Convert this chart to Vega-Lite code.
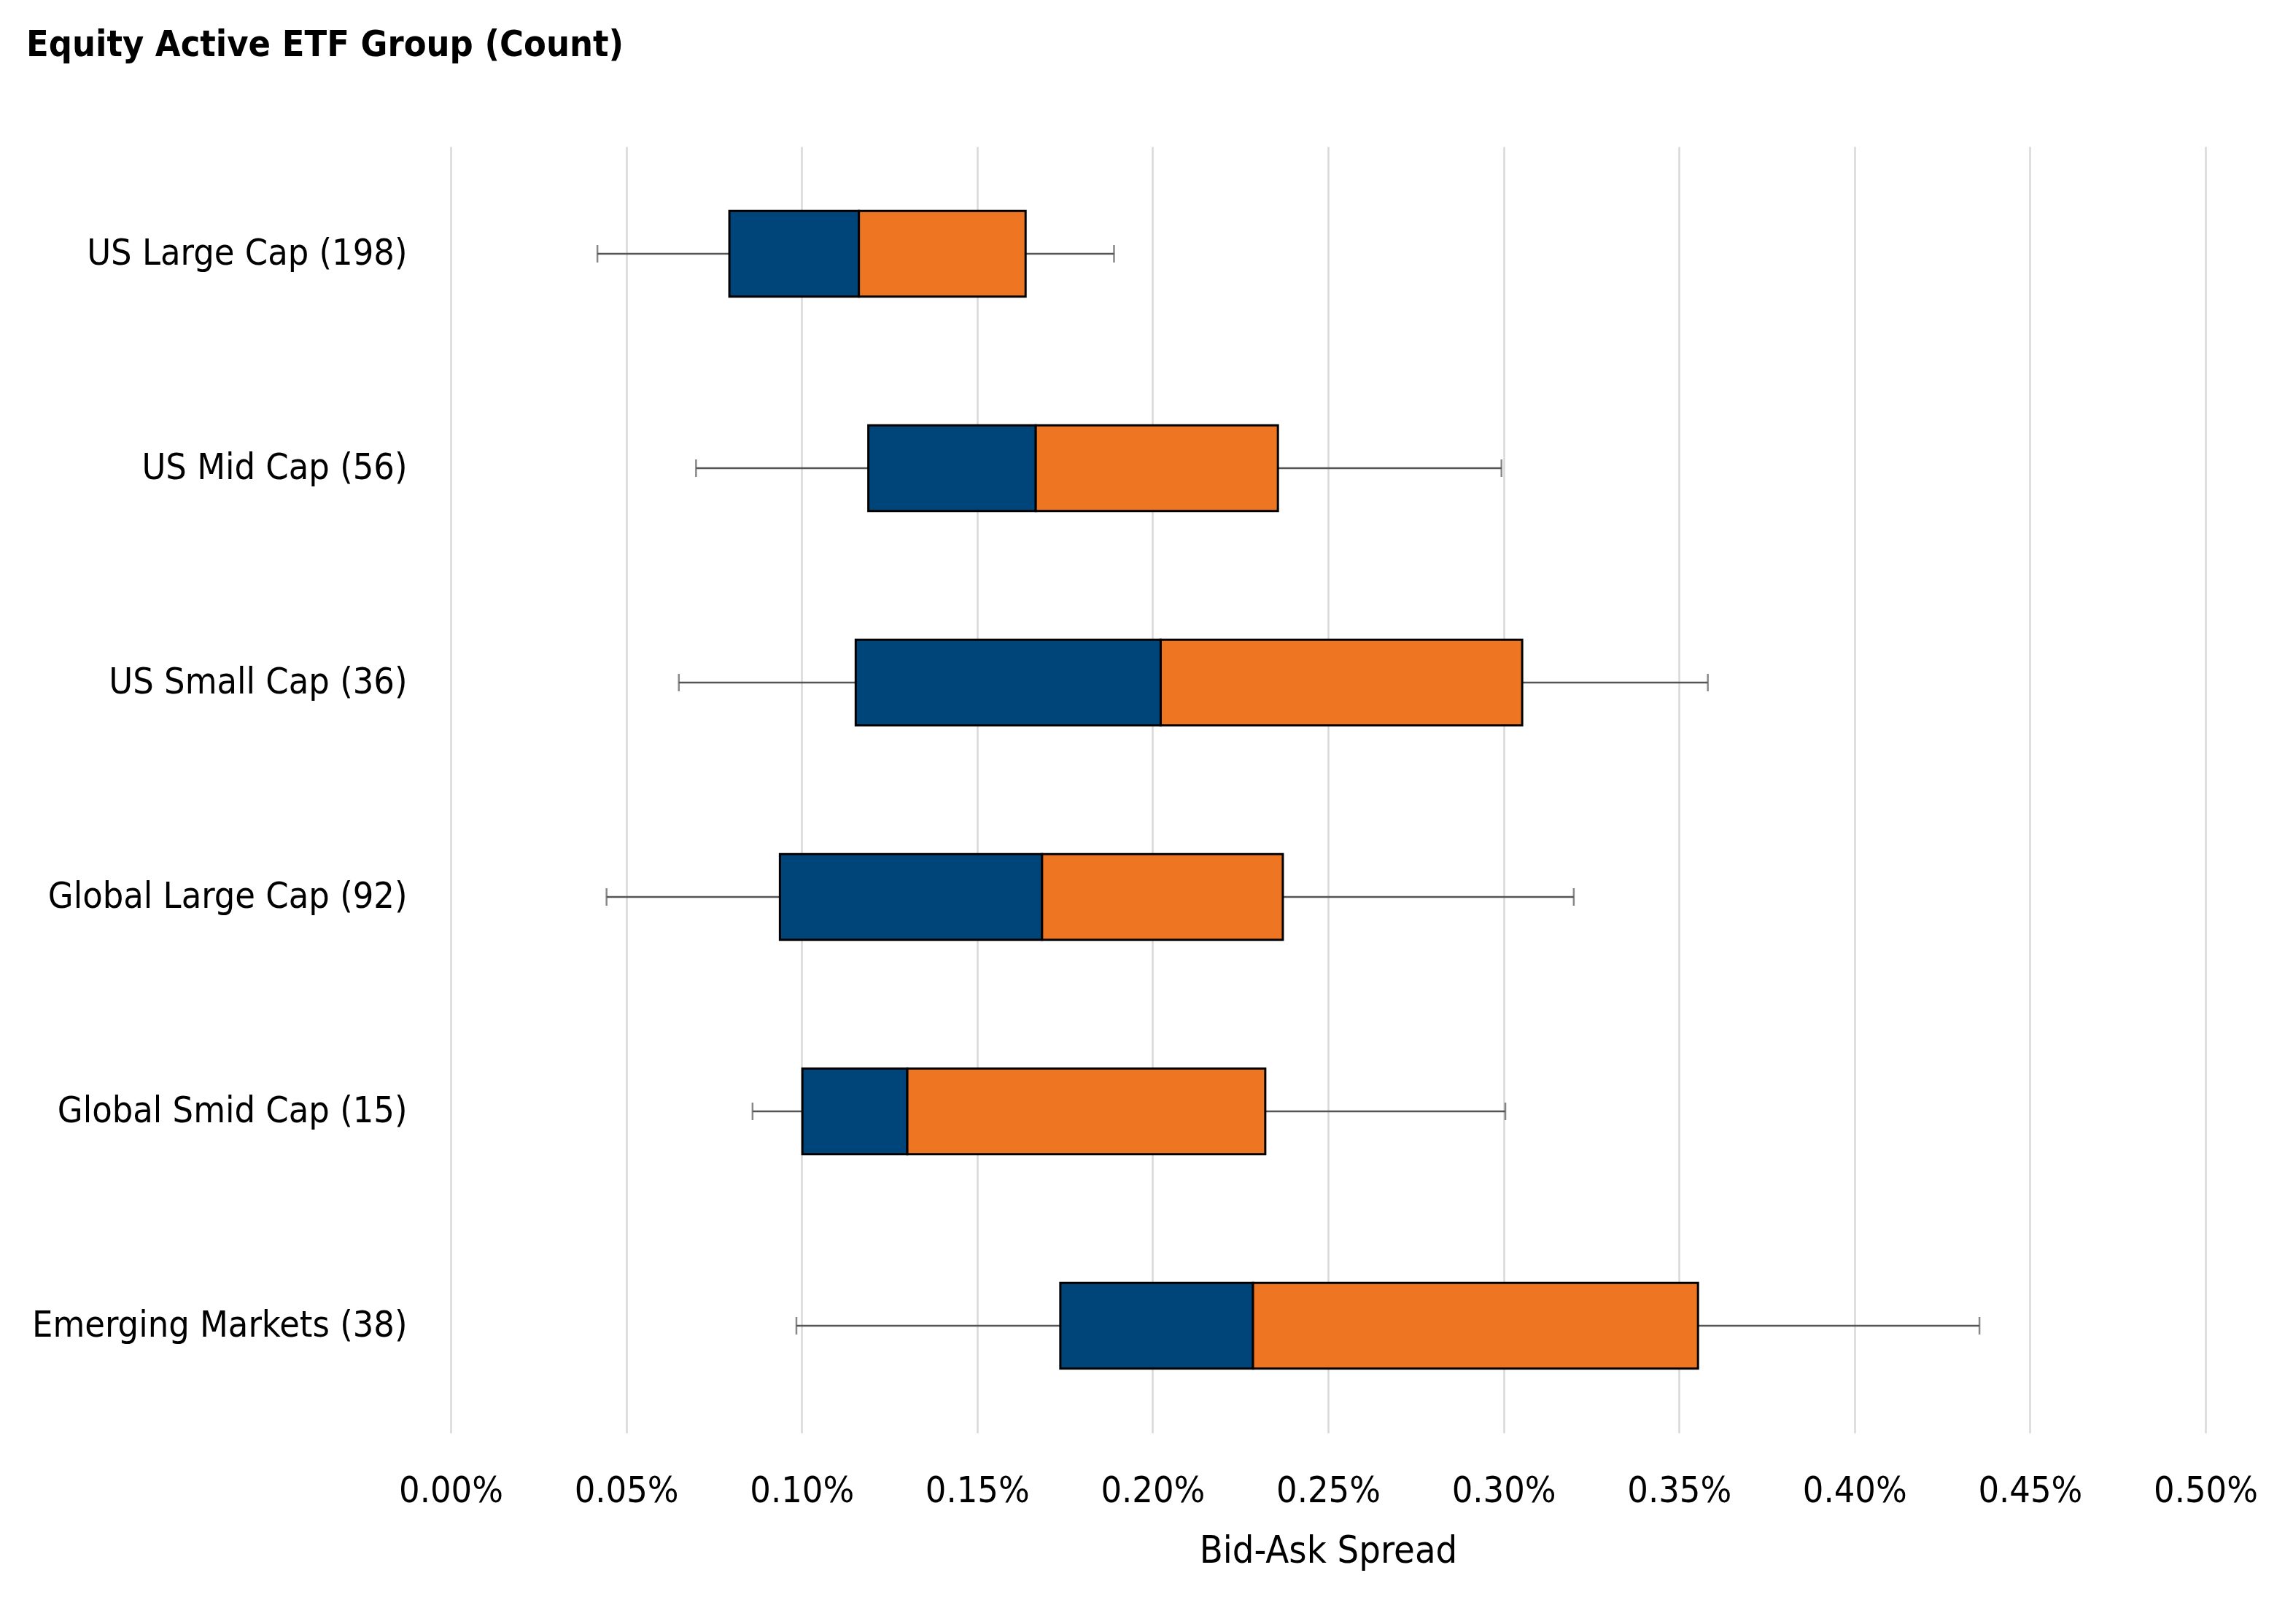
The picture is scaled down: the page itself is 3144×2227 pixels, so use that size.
{
  "$schema": "https://vega.github.io/schema/vega-lite/v6.json",
  "autosize": "none",
  "width": 2406,
  "height": 1764,
  "padding": {"left": 618, "top": 201, "right": 120, "bottom": 262},
  "background": "white",
  "title": {
    "text": "Equity Active ETF Group (Count)",
    "anchor": "start",
    "frame": "group",
    "dx": -582,
    "offset": 114,
    "fontSize": 50,
    "fontWeight": "bold",
    "font": "DejaVu Sans Condensed, Roboto, sans-serif",
    "color": "#000000"
  },
  "data": {
    "values": [
      {"group": "US Large Cap (198)", "min": 0.000418, "q1": 0.000794, "median": 0.001163, "q3": 0.001638, "max": 0.00189},
      {"group": "US Mid Cap (56)", "min": 0.000699, "q1": 0.00119, "median": 0.001667, "q3": 0.002357, "max": 0.002994},
      {"group": "US Small Cap (36)", "min": 0.00065, "q1": 0.001154, "median": 0.002023, "q3": 0.003053, "max": 0.003582},
      {"group": "Global Large Cap (92)", "min": 0.000444, "q1": 0.000938, "median": 0.001685, "q3": 0.002371, "max": 0.0032},
      {"group": "Global Smid Cap (15)", "min": 0.00086, "q1": 0.001002, "median": 0.001301, "q3": 0.002321, "max": 0.003005},
      {"group": "Emerging Markets (38)", "min": 0.000985, "q1": 0.001737, "median": 0.002286, "q3": 0.003554, "max": 0.004356}
    ]
  },
  "encoding": {
    "y": {
      "field": "group",
      "type": "nominal",
      "sort": null,
      "scale": {"paddingInner": 0, "paddingOuter": 0},
      "axis": {
        "title": null,
        "domain": false,
        "ticks": false,
        "grid": false,
        "labelPadding": 60,
        "labelLimit": 0,
        "labelFontSize": 50,
        "labelColor": "#000000",
        "labelFont": "DejaVu Sans Condensed, Roboto, sans-serif"
      }
    }
  },
  "layer": [
    {
      "mark": {"type": "rule", "color": "#555555", "strokeWidth": 2.5},
      "encoding": {
        "x": {
          "field": "min",
          "type": "quantitative",
          "scale": {"domain": [0, 0.005], "nice": false, "zero": true},
          "axis": {
            "title": "Bid-Ask Spread",
            "format": ".2%",
            "values": [0, 0.0005, 0.001, 0.0015, 0.002, 0.0025, 0.003, 0.0035, 0.004, 0.0045, 0.005],
            "labelOverlap": false,
            "labelFlush": false,
            "domain": false,
            "ticks": false,
            "grid": true,
            "gridColor": "#d9d9d9",
            "gridWidth": 2.5,
            "labelPadding": 54,
            "labelFontSize": 50,
            "labelColor": "#000000",
            "labelFont": "DejaVu Sans Condensed, Roboto, sans-serif",
            "titleFontSize": 52,
            "titleFontWeight": "normal",
            "titleColor": "#000000",
            "titleFont": "DejaVu Sans Condensed, Roboto, sans-serif",
            "titlePadding": 32
          }
        },
        "x2": {"field": "max"}
      }
    },
    {
      "mark": {"type": "tick", "color": "#555555", "thickness": 2.5, "size": 24},
      "encoding": {"x": {"field": "min", "type": "quantitative"}}
    },
    {
      "mark": {"type": "tick", "color": "#555555", "thickness": 2.5, "size": 24},
      "encoding": {"x": {"field": "max", "type": "quantitative"}}
    },
    {
      "mark": {"type": "bar", "fill": "#00457A", "stroke": "#000000", "strokeWidth": 3, "height": {"band": 0.4}},
      "encoding": {"x": {"field": "q1", "type": "quantitative"}, "x2": {"field": "median"}}
    },
    {
      "mark": {"type": "bar", "fill": "#EE7623", "stroke": "#000000", "strokeWidth": 3, "height": {"band": 0.4}},
      "encoding": {"x": {"field": "median", "type": "quantitative"}, "x2": {"field": "q3"}}
    }
  ],
  "config": {"view": {"stroke": null}}
}
